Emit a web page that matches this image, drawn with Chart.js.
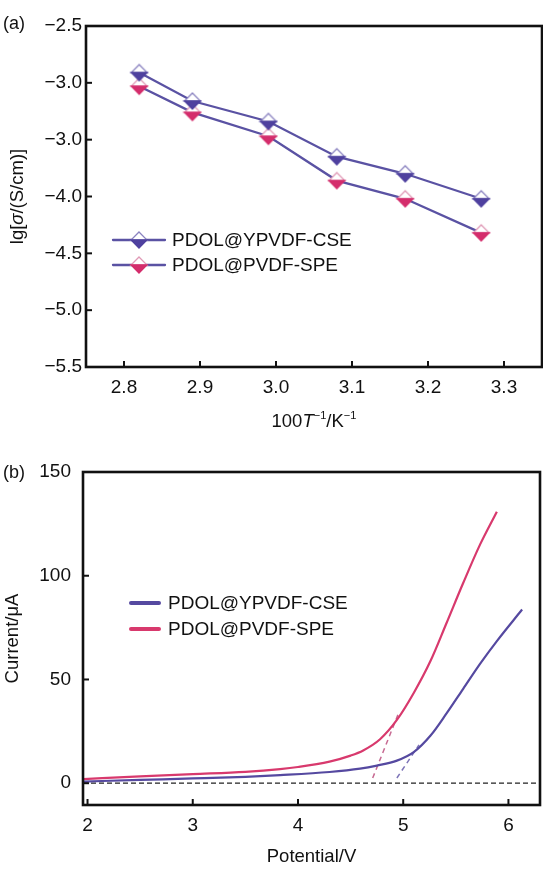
<!DOCTYPE html>
<html>
<head>
<meta charset="utf-8">
<script src="https://cdn.jsdelivr.net/npm/chart.js@4/dist/chart.umd.min.js"></script>
<style>
  html, body { margin: 0; padding: 0; background: #fff; width: 543px; height: 885px; overflow: hidden; }
  .wrap { position: absolute; left: 0; width: 543px; }
  #wrapA { top: 0; height: 440px; }
  #wrapB { top: 440px; height: 445px; }
</style>
</head>
<body>
<div class="wrap" id="wrapA"><canvas id="chartA"></canvas></div>
<div class="wrap" id="wrapB"><canvas id="chartB"></canvas></div>
<script>
// (a) conductivity vs inverse temperature
const invTemp = [2.82, 2.89, 2.99, 3.08, 3.17, 3.27];
const lgCSE = [-2.91, -3.16, -3.34, -3.65, -3.80, -4.02];
const lgSPE = [-3.03, -3.26, -3.47, -3.86, -4.02, -4.32];
const xTicksA = [2.8, 2.9, 3.0, 3.1, 3.2, 3.3];
const yTicksA = [-2.5, -3.0, -3.5, -4.0, -4.5, -5.0, -5.5];
const yTickLabelsA = ['−2.5', '−3.0', '−3.0', '−4.0', '−4.5', '−5.0', '−5.5'];

// (b) LSV curves
const potCSE = [1.96, 2.5, 3.0, 3.5, 3.83, 4.3, 4.59, 4.75, 4.94, 5.10, 5.26, 5.41, 5.57, 5.73, 5.89, 6.13];
const curCSE = [0.8, 1.6, 2.3, 3.1, 3.9, 5.4, 7.0, 8.5, 10.9, 15.0, 23.0, 33.5, 45.5, 57.5, 68.5, 83.7];
const potSPE = [1.96, 2.5, 3.0, 3.5, 3.83, 4.0, 4.3, 4.5, 4.62, 4.78, 4.94, 5.10, 5.26, 5.41, 5.57, 5.73, 5.89];
const curSPE = [2.0, 3.3, 4.4, 5.5, 6.8, 7.8, 10.4, 13.3, 15.8, 21.2, 30.5, 43.5, 59.0, 77.0, 96.5, 115.0, 130.9];
const tanCSEPot = [4.94, 5.15];
const tanCSECur = [2.5, 18.5];
const tanSPEPot = [4.71, 4.95];
const tanSPECur = [2.5, 33];
const baseLinePot = [1.957, 6.30];
const baseLineCur = [0, 0];
const xTicksB = [2, 3, 4, 5, 6];
const yTicksB = [0, 50, 100, 150];

const FONT = "'Liberation Sans', Arial, sans-serif";

function pts(xs, ys) { return xs.map((x, i) => ({ x: x, y: ys[i] })); }

function diamond(fill, edge) {
  const c = document.createElement('canvas');
  const h = 8;
  c.width = c.height = 2 * h + 4;
  const g = c.getContext('2d');
  const cx = h + 2, cy = h + 2;
  g.lineWidth = 1.3;
  g.beginPath();
  g.moveTo(cx, cy - h); g.lineTo(cx + h, cy); g.lineTo(cx - h, cy); g.closePath();
  g.fillStyle = '#fff'; g.fill();
  g.strokeStyle = edge; g.stroke();
  g.beginPath();
  g.moveTo(cx - h, cy); g.lineTo(cx + h, cy); g.lineTo(cx, cy + h); g.closePath();
  g.fillStyle = fill; g.fill();
  g.strokeStyle = fill; g.stroke();
  return c;
}

function richText(ctx, segs, x, y, size) {
  const font = s => (s.italic ? 'italic ' : '') + (s.sup ? size * 0.6 : size) + 'px ' + FONT;
  let w = 0;
  segs.forEach(s => { ctx.font = font(s); w += ctx.measureText(s.t).width; });
  let cx = x - w / 2;
  ctx.textBaseline = 'middle';
  ctx.textAlign = 'left';
  segs.forEach(s => {
    ctx.font = font(s);
    ctx.fillText(s.t, cx, s.sup ? y - size * 0.35 : y);
    cx += ctx.measureText(s.t).width;
  });
}

const decor = {
  id: 'decor',
  afterDraw(chart, args, o) {
    const ctx = chart.ctx, a = chart.chartArea;
    ctx.save();
    ctx.fillStyle = '#111';
    ctx.strokeStyle = '#111';
    // inward ticks
    ctx.lineWidth = 2;
    const xs = chart.scales.x, ys = chart.scales.y;
    xs.ticks.forEach(t => {
      const p = xs.getPixelForValue(t.value);
      ctx.beginPath(); ctx.moveTo(p, a.bottom); ctx.lineTo(p, a.bottom - 6); ctx.stroke();
    });
    ys.ticks.forEach(t => {
      const p = ys.getPixelForValue(t.value);
      ctx.beginPath(); ctx.moveTo(a.left, p); ctx.lineTo(a.left + 6, p); ctx.stroke();
    });
    // frame
    ctx.lineWidth = 2.6;
    ctx.strokeRect(a.left, a.top, a.right - a.left, a.bottom - a.top);
    // panel tag
    ctx.font = '18px ' + FONT;
    ctx.textAlign = 'left'; ctx.textBaseline = 'middle';
    ctx.fillText(o.tag, 3, o.tagY);
    // axis titles
    richText(ctx, o.xTitle, (a.left + a.right) / 2, a.bottom + o.xTitleOff, 18.5);
    ctx.save();
    ctx.translate(o.yTitleX, (a.top + a.bottom) / 2);
    ctx.rotate(-Math.PI / 2);
    richText(ctx, o.yTitle, 0, 0, 18.5);
    ctx.restore();
    // legend
    o.legend.forEach((it, i) => {
      const ds = chart.data.datasets[i];
      ctx.strokeStyle = ds.borderColor;
      ctx.lineWidth = o.legendLine;
      ctx.lineCap = 'round';
      ctx.beginPath(); ctx.moveTo(o.legendX0, it.y); ctx.lineTo(o.legendX1, it.y); ctx.stroke();
      if (ds.pointStyle && typeof ds.pointStyle === 'object') {
        const img = ds.pointStyle;
        ctx.drawImage(img, (o.legendX0 + o.legendX1) / 2 - img.width / 2, it.y - img.height / 2);
      }
      ctx.fillStyle = '#111';
      ctx.font = '19px ' + FONT;
      ctx.textAlign = 'left'; ctx.textBaseline = 'middle';
      ctx.fillText(ds.label, o.legendTextX, it.y + 1);
    });
    ctx.restore();
  }
};

function axis(min, max, ticks, fmt, pad, size) {
  return {
    type: 'linear', min: min, max: max,
    afterBuildTicks: s => { s.ticks = ticks.map(v => ({ value: v })); },
    afterFit: s => {
      if (s.isHorizontal()) { s.height = size; } else { s.width = size; }
      s.paddingLeft = 0; s.paddingRight = 0; s.paddingTop = 0; s.paddingBottom = 0;
    },
    grid: { display: false, drawTicks: false },
    border: { display: false },
    ticks: { color: '#111', padding: pad, font: { family: FONT, size: 19 }, callback: fmt, maxRotation: 0, autoSkip: false }
  };
}

const markCSE = diamond('#4f419f', '#8a82c0');
const markSPE = diamond('#d42d6c', '#e09ab6');

new Chart(document.getElementById('chartA'), {
  type: 'line',
  data: {
    datasets: [
      { label: 'PDOL@YPVDF-CSE', data: pts(invTemp, lgCSE), borderColor: '#5a52a3', borderWidth: 2.3,
        pointStyle: markCSE, pointRadius: 8 },
      { label: 'PDOL@PVDF-SPE', data: pts(invTemp, lgSPE), borderColor: '#5a52a3', borderWidth: 2.3,
        pointStyle: markSPE, pointRadius: 8 }
    ]
  },
  options: {
    responsive: true, maintainAspectRatio: false, animation: false,
    layout: { autoPadding: false, padding: { top: 26, right: 1, left: 0, bottom: 0 } },
    scales: {
      x: axis(2.75, 3.35, xTicksA, v => v.toFixed(1), 9, 73),
      y: axis(-5.5, -2.5, yTicksA, (v, i) => yTickLabelsA[i], 4, 86)
    },
    plugins: {
      legend: { display: false }, tooltip: { enabled: false },
      decor: {
        tag: '(a)', tagY: 24,
        xTitle: [{ t: '100' }, { t: 'T', italic: true }, { t: '−1', sup: true }, { t: '/K' }, { t: '−1', sup: true }],
        xTitleOff: 55, yTitleX: 18,
        yTitle: [{ t: 'lg[' }, { t: 'σ', italic: true }, { t: '/(S/cm)]' }],
        legend: [{ y: 240 }, { y: 265 }],
        legendX0: 113, legendX1: 165, legendTextX: 172, legendLine: 2.3
      }
    }
  },
  plugins: [decor]
});

new Chart(document.getElementById('chartB'), {
  type: 'line',
  data: {
    datasets: [
      { label: 'PDOL@YPVDF-CSE', data: pts(potCSE, curCSE), borderColor: '#5549a0', borderWidth: 2.2,
        pointRadius: 0, cubicInterpolationMode: 'monotone' },
      { label: 'PDOL@PVDF-SPE', data: pts(potSPE, curSPE), borderColor: '#d8396d', borderWidth: 2.2,
        pointRadius: 0, cubicInterpolationMode: 'monotone' },
      { label: 'tangent CSE', data: pts(tanCSEPot, tanCSECur), borderColor: '#7d74b8', borderWidth: 1.5,
        borderDash: [5, 4], pointRadius: 0 },
      { label: 'tangent SPE', data: pts(tanSPEPot, tanSPECur), borderColor: '#c76a92', borderWidth: 1.5,
        borderDash: [5, 4], pointRadius: 0 },
      { label: 'zero', data: pts(baseLinePot, baseLineCur), borderColor: '#222', borderWidth: 1.3,
        borderDash: [5, 3], pointRadius: 0 }
    ]
  },
  options: {
    responsive: true, maintainAspectRatio: false, animation: false,
    layout: { autoPadding: false, padding: { top: 32, right: 3, left: 0, bottom: 0 } },
    scales: {
      x: axis(1.957, 6.30, xTicksB, v => String(v), 9, 80),
      y: axis(-10.5, 150, yTicksB, v => String(v), 12, 83)
    },
    plugins: {
      legend: { display: false }, tooltip: { enabled: false },
      decor: {
        tag: '(b)', tagY: 33,
        xTitle: [{ t: 'Potential/V' }],
        xTitleOff: 52, yTitleX: 13,
        yTitle: [{ t: 'Current/μA' }],
        legend: [{ y: 163 }, { y: 189 }],
        legendX0: 131, legendX1: 159, legendTextX: 168, legendLine: 4
      }
    }
  },
  plugins: [decor]
});
</script>
</body>
</html>
